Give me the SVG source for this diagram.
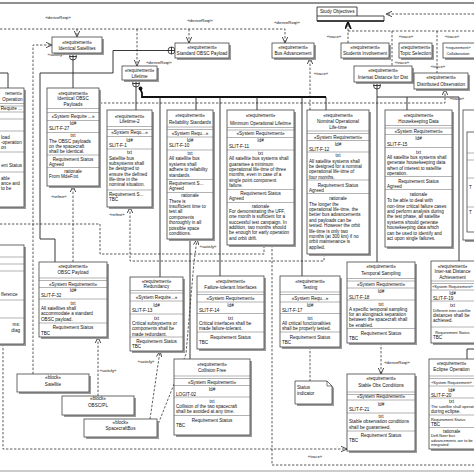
<svg xmlns="http://www.w3.org/2000/svg" width="474" height="474" viewBox="0 0 474 474">
<style>
text{font-family:"Liberation Sans",Arial,sans-serif;font-size:4.6px;fill:#111}
.m{text-anchor:middle}
.e{text-anchor:end}
.lb{font-size:4.3px}
.s{font-size:3.9px}
.sh{fill:#9c9c9c}
.bx{fill:#fff;stroke:#444;stroke-width:.8}
.sp{fill:none;stroke:#666;stroke-width:.5}
.cn{fill:none;stroke:#222;stroke-width:.9}
.tk{fill:none;stroke:#111;stroke-width:1.8}
.ds{fill:none;stroke:#333;stroke-width:.8;stroke-dasharray:2.4 1.6}
.op{fill:#fff;stroke:#222;stroke-width:.8}
</style>
<defs>
<marker id="oa" viewBox="0 0 6 6" refX="6" refY="3" markerWidth="6" markerHeight="6" orient="auto" markerUnits="userSpaceOnUse"><path d="M0,0.3 L6,3 L0,5.7" fill="none" stroke="#222" stroke-width="0.8"/></marker>
<marker id="ob" viewBox="0 0 6 6" refX="6" refY="3" markerWidth="7" markerHeight="7" orient="auto" markerUnits="userSpaceOnUse"><path d="M0,0.5 L6,3 L0,5.5" fill="none" stroke="#111" stroke-width="1.5"/></marker>
</defs>
<rect x="0" y="0" width="474" height="474" fill="#fff"/>
<path d="M0 3H474" stroke="#222" stroke-width="1.2"/>
<path d="M0 471H474" stroke="#bbb" stroke-width="1.5"/>

<g id="connectors">
<path class="ds" d="M0 29H285V43" marker-end="url(#oa)"/>
<path class="ds" d="M77 29V37" marker-end="url(#oa)"/>
<path class="ds" d="M137 29V66" marker-end="url(#oa)"/>
<path class="ds" d="M189 29V43" marker-end="url(#oa)"/>
<path class="ds" d="M474 14H386" marker-end="url(#oa)"/>
<path class="ds" d="M348 43V22" marker-end="url(#ob)"/>
<path class="ds" d="M348 31H474M392 31V66M437 31V73"/>
<path class="ds" d="M310 110V58" marker-end="url(#oa)"/>
<path class="ds" d="M100 103H445V89" marker-end="url(#oa)"/>
<path class="ds" d="M0 224H100V254H264V245"/>
<path class="ds" d="M324 254V261H130V207" marker-end="url(#oa)"/>
<path class="ds" d="M73 262V186" marker-end="url(#oa)"/>
<path class="ds" d="M272 245V465H476"/>
<path class="ds" d="M3 344V449H347" marker-end="url(#oa)"/>
<path class="ds" d="M33 374V45H52" marker-end="url(#oa)"/>
<path class="ds" d="M98 396V337" marker-end="url(#oa)"/>
<path class="ds" d="M150 419L160 351" marker-end="url(#oa)"/>
<path class="ds" d="M157 427L186 354L194 262L197 239" marker-end="url(#oa)"/>
<path class="ds" d="M381 343V374" marker-end="url(#oa)"/>
<path class="ds" d="M310 347V381"/>

<path class="cn" d="M73 60V88"/>
<path class="cn" d="M168 50.5H113V73H40V239H55V262"/>
<path class="cn" d="M0 73H8V88"/>
<path class="cn" d="M136 87V110"/>
<path class="tk" d="M140 88L142 93V97H326"/>
<circle cx="140.5" cy="88.5" r="1.9" fill="#111"/>
<path class="cn" d="M160 97V277M196 97V110M220 97V276M257 97V110M302 97V276M326 97V110"/>
<path class="cn" d="M190 239V359"/>
<path class="cn" d="M377 89V262M377 97H459V261M407 97V110"/>
<path class="cn" d="M467 359V349H476"/>

<g id="markers-plus">
<circle class="op" cx="73" cy="56.5" r="3.5"/><path class="cn" d="M69.5 56.5h7M73 53v7"/>
<circle class="op" cx="136" cy="83.5" r="3.5"/><path class="cn" d="M132.5 83.5h7M136 80v7"/>
<circle class="op" cx="171.5" cy="50.5" r="3.5"/><path class="cn" d="M168 50.5h7M171.5 47v7"/>
<circle class="op" cx="377" cy="85.5" r="3.5"/><path class="cn" d="M373.5 85.5h7M377 82v7"/>
</g>

<g id="labels">
<text class="lb m" x="58" y="18.5">«deriveReqt»</text>
<text class="lb m" x="200" y="22">«deriveReqt»</text>
<text class="lb m" x="287" y="23.5">«deriveReqt»</text>
<text class="lb m" x="159" y="63.5">«deriveReqt»</text>
<text class="lb m" x="56" y="55.5">«satisfy»</text>
<text class="lb m" x="59" y="197.5">«refine»</text>
<text class="lb m" x="117" y="215.5">«refine»</text>
<text class="lb m" x="208" y="247.5">«satisfy»</text>
<text class="lb m" x="108" y="371.5">«satisfy»</text>
<text class="lb m" x="146" y="362.5">«satisfy»</text>
<text class="lb m" x="397" y="363.5">«deriveReqt»</text>
<text class="lb m" x="334" y="37.5">«trace»</text>
<text class="lb m" x="406" y="37.5">«trace»</text>
<text class="lb m" x="452" y="37.5">«trace»</text>
<text class="lb m" x="402" y="63.5">«trace»</text>
<text class="lb m" x="438" y="67.5">«trace»</text>
<text class="lb m" x="321" y="74.5">«trace»</text>
<text class="lb m" x="457" y="99.5">«trace»</text>
<text class="lb m" x="315" y="457.5">«trace»</text>
</g>
</g>

<g id="study-objectives">
<path d="M317 7H357V16H384V21H317Z" fill="#fff" stroke="#333" stroke-width=".9"/>
<path d="M317 16H357" stroke="#333" stroke-width=".9"/>
<path d="M317 21H384" stroke="#222" stroke-width="1.4"/>
<text x="320" y="13">Study Objectives</text>
</g>

<g id="identical-satellites">
<rect class="sh" x="54" y="39" width="50" height="16"/><rect class="bx" x="52" y="37" width="50" height="16"/>
<text class="m" x="77" y="43.5">«requirement»</text><text class="m" x="77" y="49.8">Identical Satellites</text>
</g>
<g id="standard-obsc-payload">
<rect class="sh" x="177" y="45" width="54" height="15"/><rect class="bx" x="175" y="43" width="54" height="15"/>
<text class="m" x="202" y="48.8">«requirement»</text><text class="m" x="202" y="55.3">Standard OBSC Payload</text>
</g>
<g id="bus-advancement">
<rect class="sh" x="274" y="45" width="42" height="15"/><rect class="bx" x="272" y="43" width="42" height="15"/>
<text class="m" x="293" y="48.8">«requirement»</text><text class="m" x="293" y="55.3">Bus Advancement</text>
</g>
<g id="lifetime">
<rect class="sh" x="124" y="68" width="35" height="14"/><rect class="bx" x="122" y="66" width="35" height="14"/>
<text class="m" x="139.5" y="71.8">«requirement»</text><text class="m" x="139.5" y="77.8">Lifetime</text>
</g>
<g id="students-involvement">
<rect class="sh" x="343" y="45" width="48" height="15"/><rect class="bx" x="341" y="43" width="48" height="15"/>
<text class="m" x="365" y="48.8">«requirement»</text><text class="m" x="365" y="55.3">Students Involvement</text>
</g>
<g id="topic-selection">
<rect class="sh" x="401" y="45" width="33" height="15"/><rect class="bx" x="399" y="43" width="33" height="15"/>
<text class="m" x="415.5" y="48.8">«requirement»</text><text class="m" x="415.5" y="55.3">Topic Selection</text>
</g>
<g id="collaboration">
<rect class="sh" x="445" y="45" width="33" height="15"/><rect class="bx" x="443" y="43" width="33" height="15"/>
<text class="m s" x="458" y="48.8">«requirement»</text><text class="m s" x="458" y="55.3">Collaboration</text>
</g>
<g id="intersat-distance-for-dist">
<rect class="sh" x="356" y="68" width="58" height="16"/><rect class="bx" x="354" y="66" width="58" height="16"/>
<text class="m" x="383" y="71.8">«requirement»</text><text class="m" x="383" y="78.8">Intersat Distance for Dist</text>
</g>
<g id="distributed-observation">
<rect class="sh" x="416" y="75" width="54" height="16"/><rect class="bx" x="414" y="73" width="54" height="16"/>
<text class="m" x="441" y="78.8">«requirement»</text><text class="m" x="441" y="86">Distributed Observation</text>
</g>

<g id="operation-left">
<rect class="sh" x="-48" y="90" width="74" height="119"/><rect class="bx" x="-50" y="88" width="74" height="119"/>
<path class="sp" d="M-50 103.5H24M-50 106H24M-50 112H24M-50 119H24M-50 131H24M-50 152H24M-50 172H24"/>
<text class="e" x="22" y="94.6">rement»</text>
<text class="e" x="22.5" y="101">Operation</text>
<text class="e" x="22" y="110.3">Require ...</text>
<text x="1" y="138.6">load</text>
<text x="1" y="143.9">-operation</text>
<text x="1" y="149.2">on</text>
<text class="e" x="22" y="167">ent Status</text>
<text x="1" y="179.6">able</text>
<text x="1" y="185">ance and</text>
<text x="1" y="190.4">to be</text>
</g>

<g id="left-bottom">
<rect class="sh" x="-48" y="247" width="74" height="99"/><rect class="bx" x="-50" y="245" width="74" height="99"/>
<path class="sp" d="M-50 257H24M-50 264H24M-50 271H24M-50 300H24M-50 318H24"/>
<text x="1" y="295.5">fference</text>
<text class="e" x="20" y="326">ms:</text>
<text class="e" x="20" y="331.5">diag</text>
</g>

<g id="identical-obsc-payloads">
<rect class="sh" x="49" y="90" width="52" height="98"/><rect class="bx" x="47" y="88" width="52" height="98"/>
<path class="sp" d="M47 108.5h52M47 112.5h52M47 120.5h52M47 132.5h52M47 155h52M47 167.5h52"/>
<text class="m" x="73" y="94.6">«requirement»</text>
<text class="m" x="73" y="100.1">Identical OBSC</text>
<text class="m" x="73" y="105.6">Payloads</text>
<text class="m" x="73" y="118.2">«System Require ...»</text>
<text class="m" x="73" y="124.9">Id#</text>
<text x="49" y="130">SLIT-F-27</text>
<text class="m" x="73" y="137.3">txt</text>
<text x="49" y="142.6">The OBSC payloads</text>
<text x="49" y="147.9">on the spacecraft</text>
<text x="49" y="153.2">shall be identical.</text>
<text class="m" x="73" y="160.6">Requirement Status</text>
<text x="49" y="165.9">Agreed</text>
<text class="m" x="73" y="172.6">rationale</text>
<text x="49" y="178">From MdeF.txt</text>
</g>

<g id="lifetime-2">
<rect class="sh" x="109" y="112" width="45" height="97"/><rect class="bx" x="107" y="110" width="45" height="97"/>
<path class="sp" d="M107 126.5h45M107 129.5h45M107 136.5h45M107 149h45M107 190h45"/>
<text class="m" x="129.5" y="117.5">«requirement»</text>
<text class="m" x="129.5" y="123">Lifetime-2</text>
<text class="m" x="129.5" y="134.3">«System Requ...»</text>
<text class="m" x="129.5" y="141.5">Id#</text>
<text x="109" y="146.6">SLIT-F-1</text>
<text class="m" x="129.5" y="154.2">txt</text>
<text x="109" y="159.8">Satellite bus</text>
<text x="109" y="165.1">subsystems shall</text>
<text x="109" y="170.4">be designed to</text>
<text x="109" y="175.7">ensure the defined</text>
<text x="109" y="181">life-time in the</text>
<text x="109" y="186.3">nominal situation.</text>
<text x="109" y="195.8">Requirement S...</text>
<text x="109" y="201.3">TBC</text>
</g>

<g id="reliability-standards">
<rect class="sh" x="169" y="112" width="46" height="129"/><rect class="bx" x="167" y="110" width="46" height="129"/>
<path class="sp" d="M167 127h46M167 129.5h46M167 137h46M167 150h46M167 179.5h46M167 192.5h46"/>
<text class="m" x="190" y="117.2">«requirement»</text>
<text class="m" x="190" y="123.8">Reliability Standards</text>
<text class="m" x="190" y="134.5">«System Requ...»</text>
<text class="m" x="190" y="142">Id#</text>
<text x="169" y="147.3">SLIT-F-10</text>
<text class="m" x="190" y="155">txt</text>
<text x="169" y="160.3">All satellite bus</text>
<text x="169" y="165.7">systems shall</text>
<text x="169" y="171.1">adhere to reliability</text>
<text x="169" y="176.5">standards.</text>
<text x="169" y="185">Requirement S...</text>
<text x="169" y="190.3">Agreed</text>
<text class="m" x="190" y="197.4">rationale</text>
<text x="169" y="202.6">There is</text>
<text x="169" y="208">insufficient time to</text>
<text x="169" y="213.4">test all</text>
<text x="169" y="218.8">components</text>
<text x="169" y="224.2">thoroughly in all</text>
<text x="169" y="229.6">possible space</text>
<text x="169" y="235">conditions.</text>
</g>

<g id="minimum-operational-lifetime">
<rect class="sh" x="229" y="112" width="67" height="135"/><rect class="bx" x="227" y="110" width="67" height="135"/>
<path class="sp" d="M227 127.5h67M227 130h67M227 137.5h67M227 150h67M227 189.5h67M227 202.5h67"/>
<text class="m" x="260.5" y="116.8">«requirement»</text>
<text class="m" x="260.5" y="124.5">Minimum Operational Lifetime</text>
<text class="m" x="260.5" y="135.2">«System Requirement»</text>
<text class="m" x="260.5" y="142.2">Id#</text>
<text x="229" y="147.6">SLIT-F-11</text>
<text class="m" x="260.5" y="155">txt</text>
<text x="229" y="160.3">All satellite bus systems shall</text>
<text x="229" y="165.6">guarantee a minimum</text>
<text x="229" y="170.9">operational life-time of three</text>
<text x="229" y="176.2">months, even in case of a</text>
<text x="229" y="181.5">single point component</text>
<text x="229" y="186.8">failure.</text>
<text class="m" x="260.5" y="195">Requirement Status</text>
<text x="229" y="200.3">Agreed</text>
<text class="m" x="260.5" y="207.5">rationale</text>
<text x="229" y="213">For demonstrating the UFF,</text>
<text x="229" y="218.3">one month is sufficient for a</text>
<text x="229" y="223.6">successful test campaign. In</text>
<text x="229" y="228.9">addition, two months should</text>
<text x="229" y="234.2">be enough for early operation</text>
<text x="229" y="239.5">and orbit drift.</text>
</g>

<g id="nominal-operational-lifetime">
<rect class="sh" x="309" y="112" width="62" height="144"/><rect class="bx" x="307" y="110" width="62" height="144"/>
<path class="sp" d="M307 131h62M307 133.5h62M307 140.5h62M307 152h62M307 180h62M307 193.5h62"/>
<text class="m" x="338" y="116.6">«requirement»</text>
<text class="m" x="338" y="123.1">Nominal Operational</text>
<text class="m" x="338" y="128.6">Life-time</text>
<text class="m" x="338" y="139.1">«System Requirement»</text>
<text class="m" x="338" y="146.1">Id#</text>
<text x="309" y="151.1">SLIT-F-12</text>
<text class="m" x="338" y="157.1">txt</text>
<text x="309" y="162.6">All satellite systems shall</text>
<text x="309" y="167.9">be designed for a nominal</text>
<text x="309" y="173.2">operational life-time of</text>
<text x="309" y="178.5">four months.</text>
<text class="m" x="338" y="187.1">Requirement Status</text>
<text x="309" y="192.4">Agreed</text>
<text class="m" x="338" y="200.1">rationale</text>
<text x="309" y="205.6">The longer the</text>
<text x="309" y="211">operational life-time, the</text>
<text x="309" y="216.4">better bus advancements</text>
<text x="309" y="221.8">and payloads can be</text>
<text x="309" y="227.2">tested. However the orbit</text>
<text x="309" y="232.6">life-time is only two</text>
<text x="309" y="238">months (at 300 km) if no</text>
<text x="309" y="243.4">orbit maintenance is</text>
<text x="309" y="248.8">applied.</text>
</g>

<g id="housekeeping-data">
<rect class="sh" x="387" y="112" width="67" height="137"/><rect class="bx" x="385" y="110" width="67" height="137"/>
<path class="sp" d="M385 125.5h67M385 128h67M385 134.5h67M385 147.5h67M385 176.5h67M385 189.5h67"/>
<text class="m" x="418.5" y="117.1">«requirement»</text>
<text class="m" x="418.5" y="123.1">Housekeeping Data</text>
<text class="m" x="418.5" y="133.1">«System Requirement»</text>
<text class="m" x="418.5" y="140.1">Id#</text>
<text x="387" y="145.6">SLIT-F-15</text>
<text class="m" x="418.5" y="153.6">txt</text>
<text x="387" y="159.1">All satellite bus systems shall</text>
<text x="387" y="164.4">generate housekeeping data</text>
<text x="387" y="169.7">when of interest to satellite</text>
<text x="387" y="175">operation.</text>
<text class="m" x="418.5" y="183.1">Requirement Status</text>
<text x="387" y="188.4">Agreed</text>
<text class="m" x="418.5" y="196.1">rationale</text>
<text x="387" y="202.1">To be able to deal with</text>
<text x="387" y="207.5">non-time critical failure cases</text>
<text x="387" y="212.9">and perform analysis during</text>
<text x="387" y="218.3">the test phase, all satellite</text>
<text x="387" y="223.7">systems should generate</text>
<text x="387" y="229.1">housekeeping data which</text>
<text x="387" y="234.5">can be used to identify and</text>
<text x="387" y="239.9">act upon single failures.</text>
</g>

<g id="right-partial">
<rect class="sh" x="465" y="112" width="20" height="130"/><rect class="bx" x="463" y="110" width="20" height="130"/>
<rect class="bx" x="467" y="132" width="15" height="100"/>
<path class="sp" d="M467 153h15M467 160h15M467 178h15M467 207h15"/>
<text x="469" y="189">T</text>
<text x="469" y="214">T</text>
</g>

<g id="obsc-payload">
<rect class="sh" x="41" y="264" width="68" height="75"/><rect class="bx" x="39" y="262" width="68" height="75"/>
<path class="sp" d="M39 278h68M39 280.5h68M39 287.5h68M39 299h68M39 323h68"/>
<text class="m" x="73" y="268.1">«requirement»</text>
<text class="m" x="73" y="274.1">OBSC Payload</text>
<text class="m" x="73" y="285.6">«System Requirement»</text>
<text class="m" x="73" y="292.1">Id#</text>
<text x="41" y="297.1">SLIT-F-32</text>
<text class="m" x="73" y="305.1">txt</text>
<text x="41" y="310.1">All satellites shall</text>
<text x="41" y="315.4">accommodate a standard</text>
<text x="41" y="320.7">OBSC payload.</text>
<text class="m" x="73" y="329.1">Requirement Status</text>
<text x="41" y="334.6">TBC</text>
</g>

<g id="redundancy">
<rect class="sh" x="132" y="279" width="53" height="74"/><rect class="bx" x="130" y="277" width="53" height="74"/>
<path class="sp" d="M130 290.5h53M130 293h53M130 301h53M130 314h53M130 337h53"/>
<text class="m" x="156.5" y="282.6">«requirement»</text>
<text class="m" x="156.5" y="288.1">Redundancy</text>
<text class="m" x="156.5" y="299.1">«System Require...»</text>
<text class="m" x="156.5" y="306.6">Id#</text>
<text x="132" y="312.1">SLIT-F-13</text>
<text class="m" x="156.5" y="320.1">txt</text>
<text x="132" y="325.1">Critical subsystems or</text>
<text x="132" y="330.3">components shall be</text>
<text x="132" y="335.5">made redundant.</text>
<text class="m" x="156.5" y="342.9">Requirement Status</text>
<text x="132" y="347.9">TBC</text>
</g>

<g id="failure-tolerant-interfaces">
<rect class="sh" x="199" y="278" width="67" height="73"/><rect class="bx" x="197" y="276" width="67" height="73"/>
<path class="sp" d="M197 292h67M197 294.5h67M197 302h67M197 313.5h67M197 332h67"/>
<text class="m" x="230.5" y="282.6">«requirement»</text>
<text class="m" x="230.5" y="289.1">Failure-tolerant Interfaces</text>
<text class="m" x="230.5" y="300.1">«System Requirement»</text>
<text class="m" x="230.5" y="307.1">Id#</text>
<text x="199" y="312.1">SLIT-F-14</text>
<text class="m" x="230.5" y="319.6">txt</text>
<text x="199" y="325.1">Critical interfaces shall be</text>
<text x="199" y="330.4">made failure-tolerant.</text>
<text class="m" x="230.5" y="338.6">Requirement Status</text>
<text x="199" y="344.1">TBC</text>
</g>

<g id="collision-free">
<rect class="sh" x="176" y="361" width="76" height="76"/><rect class="bx" x="174" y="359" width="76" height="76"/>
<path class="sp" d="M174 376h76M174 378.5h76M174 385.5h76M174 397h76M174 415.5h76"/>
<text class="m" x="212" y="365.6">«requirement»</text>
<text class="m" x="212" y="372.1">Collision Free</text>
<text class="m" x="212" y="383.6">«System Requirement»</text>
<text class="m" x="212" y="390.6">Id#</text>
<text x="176" y="395.6">LOGIT-02</text>
<text class="m" x="212" y="402.6">txt</text>
<text x="176" y="408.1">Collision of the two spacecraft</text>
<text x="176" y="413.4">shall be avoided at any time.</text>
<text class="m" x="212" y="421.6">Requirement Status</text>
<text x="176" y="427.1">TBC</text>
</g>

<g id="testing">
<rect class="sh" x="282" y="278" width="60" height="71"/><rect class="bx" x="280" y="276" width="60" height="71"/>
<path class="sp" d="M280 292h60M280 294.5h60M280 302h60M280 313.5h60M280 332h60"/>
<text class="m" x="310" y="282.6">«requirement»</text>
<text class="m" x="310" y="289.1">Testing</text>
<text class="m" x="310" y="300.1">«System Requ...»</text>
<text class="m" x="310" y="307.1">Id#</text>
<text x="282" y="312.1">SLIT-F-17</text>
<text class="m" x="310" y="319.6">txt</text>
<text x="282" y="325.1">All critical functionalities</text>
<text x="282" y="330.4">shall be properly tested.</text>
<text class="m" x="310" y="338.6">Requirement Status</text>
<text x="282" y="344.1">TBC</text>
</g>

<g id="status-indicator-note">
<path d="M297 383H329L334 388V406H297Z" class="sh"/>
<path d="M295 381H327L332 386V404H295Z" fill="#fff" stroke="#444" stroke-width=".8"/>
<path d="M327 381V386H332" fill="none" stroke="#444" stroke-width=".7"/>
<text x="297" y="388.6">Status</text>
<text x="297" y="394.6">indicator</text>
</g>

<g id="temporal-sampling">
<rect class="sh" x="349" y="264" width="68" height="81"/><rect class="bx" x="347" y="262" width="68" height="81"/>
<path class="sp" d="M347 278.5h68M347 281h68M347 288h68M347 300h68M347 328.5h68"/>
<text class="m" x="381" y="268.1">«requirement»</text>
<text class="m" x="381" y="274.6">Temporal Sampling</text>
<text class="m" x="381" y="286.1">«System Requirement»</text>
<text class="m" x="381" y="293.1">Id#</text>
<text x="349" y="298.6">SLIT-F-18</text>
<text class="m" x="381" y="305.6">txt</text>
<text x="349" y="310.6">A specific temporal sampling</text>
<text x="349" y="315.9">for an alongtrack separation</text>
<text x="349" y="321.2">between the spacecraft shall</text>
<text x="349" y="326.5">be enabled.</text>
<text class="m" x="381" y="334.6">Requirement Status</text>
<text x="349" y="339.9">TBC</text>
</g>

<g id="stable-obs-conditions">
<rect class="sh" x="349" y="376" width="68" height="77"/><rect class="bx" x="347" y="374" width="68" height="77"/>
<path class="sp" d="M347 392h68M347 394.5h68M347 400h68M347 413h68M347 431h68"/>
<text class="m" x="381" y="379.6">«requirement»</text>
<text class="m" x="381" y="386.6">Stable Obs Conditions</text>
<text class="m" x="381" y="398.1">«System Requirement»</text>
<text class="m" x="381" y="405.6">Id#</text>
<text x="349" y="411.4">SLIT-F-21</text>
<text class="m" x="381" y="417.6">txt</text>
<text x="349" y="423.4">Stable observation conditions</text>
<text x="349" y="428.6">shall be guaranteed.</text>
<text class="m" x="381" y="436.6">Requirement Status</text>
<text x="349" y="441.8">TBC</text>
</g>

<g id="intersat-distance-achievement">
<rect class="sh" x="433" y="263" width="45" height="82"/><rect class="bx" x="431" y="261" width="45" height="82"/>
<path class="sp" d="M431 281h45M431 283.5h45M431 290h45M431 301h45M431 327h45"/>
<text class="m" x="452.5" y="267.6">«requirement»</text>
<text class="m" x="452.5" y="273.4">Inter-sat Distance</text>
<text class="m" x="452.5" y="278.9">Achievement</text>
<text class="m s" x="452.5" y="288.4">«System Requirement»</text>
<text class="m" x="452.5" y="294.6">Id#</text>
<text x="433" y="299.6">SLIT-F-19</text>
<text class="m" x="452.5" y="306.6">txt</text>
<text class="s" x="433" y="311.6">Different inter-satellite</text>
<text x="433" y="316.9">distances shall be</text>
<text x="433" y="322.2">achieved.</text>
<text class="m s" x="452.5" y="333.6">Requirement Status</text>
<text x="433" y="339.1">TBC</text>
</g>

<g id="eclipse-operation">
<rect class="sh" x="431" y="361" width="60" height="90"/><rect class="bx" x="429" y="359" width="60" height="90"/>
<path class="sp" d="M429 376h60M429 378.5h60M429 386h60M429 398h60M429 415h60M429 427.5h60"/>
<text class="m" x="451.5" y="365.1">«requirement»</text>
<text class="m" x="451.5" y="371.1">Eclipse Operation</text>
<text class="m s" x="451.5" y="383.6">«System Requirement»</text>
<text class="m" x="451.5" y="391.6">Id#</text>
<text x="431" y="396.6">SLIT-F-20</text>
<text class="m" x="451.5" y="403.1">txt</text>
<text class="s" x="431" y="408.1">The satellite shall operate</text>
<text x="431" y="413.4">during eclipse.</text>
<text class="s" x="431" y="421.1">Requirement Status</text>
<text x="431" y="426.1">TBC</text>
<text class="m" x="451.5" y="432.6">rationale</text>
<text class="s" x="431" y="437.4">Deff-Neer bus</text>
<text class="s" x="431" y="441.7">advancements are to be</text>
<text class="s" x="431" y="446">integrated</text>
</g>

<g id="block-satellite">
<rect class="sh" x="19" y="376" width="72" height="18"/><rect class="bx" x="17" y="374" width="72" height="18"/>
<text class="m" x="53" y="379.3">«block»</text><text class="m" x="53" y="385.8">Satellite</text>
</g>
<g id="block-obsc-pl">
<rect class="sh" x="64" y="398" width="72" height="19"/><rect class="bx" x="62" y="396" width="72" height="19"/>
<text class="m" x="98" y="400.3">«block»</text><text class="m" x="98" y="407">OBSC/PL</text>
</g>
<g id="block-spacecraftbus">
<rect class="sh" x="86" y="421" width="73" height="18"/><rect class="bx" x="84" y="419" width="73" height="18"/>
<text class="m" x="120.5" y="423.6">«block»</text><text class="m" x="120.5" y="430.2">SpacecraftBus</text>
</g>
</svg>
